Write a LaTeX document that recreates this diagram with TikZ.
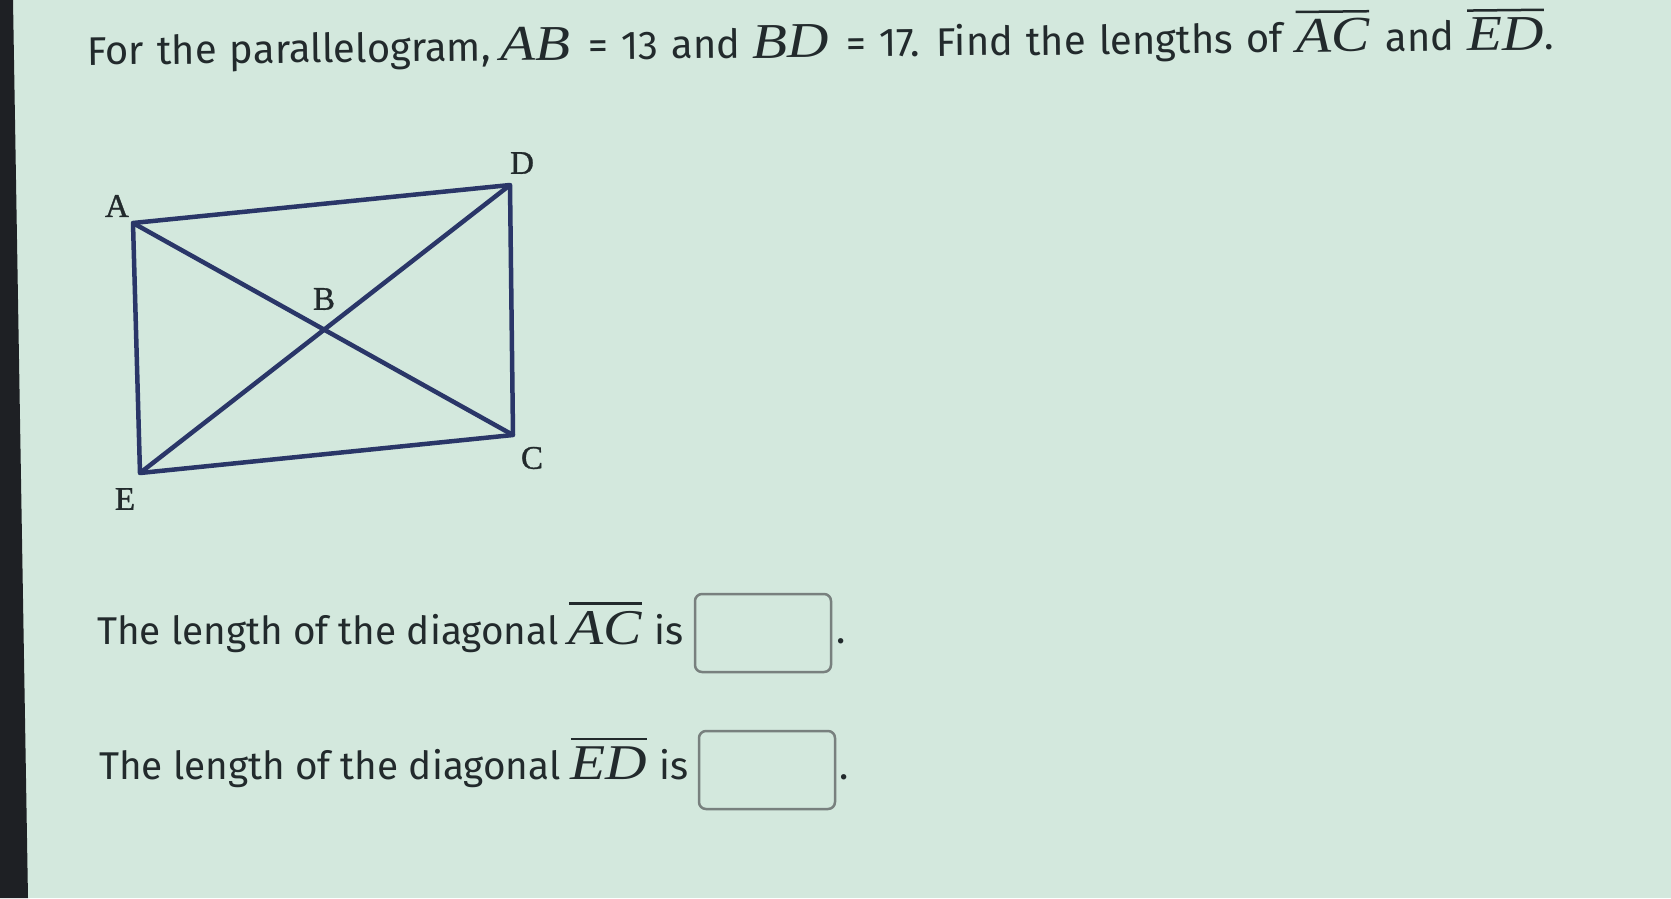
\documentclass[tikz,border=0pt]{standalone}
\usepackage{fontspec}
\setmainfont{Fira Sans}
\newfontfamily\serifA[FakeStretch=1.15]{Liberation Serif Italic}
\newfontfamily\serifB[FakeBold=1]{Liberation Serif}
\definecolor{screen}{RGB}{211,232,221}
\definecolor{ink}{RGB}{34,42,44}
\definecolor{navy}{RGB}{42,54,104}
\definecolor{bezel}{RGB}{30,32,36}
\definecolor{boxline}{RGB}{120,128,126}
\newcommand\pvar[1]{{\serifA\fontsize{50}{50}\selectfont #1}}
\newcommand\pseg[1]{\vbox{\hrule height 2.5pt\kern 6pt\hbox{\pvar{#1}}}}
\newcommand\widespace{\spaceskip=13pt plus 2pt\relax}
\tikzset{
  prose/.style={anchor=base west, inner sep=0pt, text=ink, font=\fontsize{38.7}{46}\selectfont},
  headline/.style={prose, font=\fontsize{40}{46}\selectfont\widespace},
  vlabel/.style={inner sep=0pt, text=ink, font=\serifB\fontsize{33}{36}\selectfont},
  side/.style={navy, line width=4.5pt, line join=round},
  ansbox/.style={draw=boxline, line width=2.5pt, rounded corners=7pt, minimum width=136pt, minimum height=78pt, inner sep=0pt}
}
\begin{document}
\begin{tikzpicture}[x=1pt,y=-1pt]
\fill[screen] (0,0) rectangle (1671,898);
\fill[bezel] (0,0) -- (13,0) -- (28,898) -- (0,898) -- cycle;
\useasboundingbox (0,0) rectangle (1671,898);

\node[headline, rotate=0.6] (title) at (87,65) {For the parallelogram,\hspace{10pt}\pvar{AB}\hspace{4pt} = 13 and\hspace{12pt}\pvar{BD}\hspace{4pt} = 17. Find the lengths of \pseg{AC}\hspace{3pt} and \pseg{ED}.};

\coordinate (A) at (133,223);
\coordinate (D) at (510,185);
\coordinate (C) at (513,435);
\coordinate (E) at (140,473);
\draw[side] (A) -- (D) -- (C) -- (E) -- cycle;
\draw[side] (A) -- (C);
\draw[side] (E) -- (D);

\node[vlabel] (lA) at (117,206) {A};
\node[vlabel] (lD) at (522,163) {D};
\node[vlabel] (lB) at (324,299) {B};
\node[vlabel] (lC) at (532,458) {C};
\node[vlabel] (lE) at (125,499) {E};

\node[prose] (askAC) at (97,644) {The length of the diagonal \pseg{AC}\hspace{2pt} is};
\node[ansbox] (boxAC) at (763,633) {};
\node[prose] (dotAC) at (836,643) {.};

\node[prose] (askED) at (99,779) {The length of the diagonal \pseg{ED}\hspace{2pt} is};
\node[ansbox] (boxED) at (767,770) {};
\node[prose] (dotED) at (839,779) {.};
\end{tikzpicture}
\end{document}
